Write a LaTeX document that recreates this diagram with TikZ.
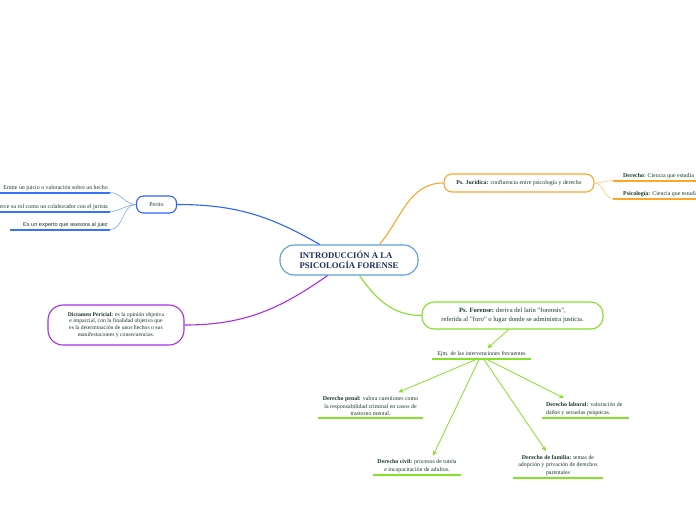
\documentclass[tikz,border=0pt]{standalone}
\usepackage{fontspec}
\setmainfont{Liberation Serif}
\newfontfamily\sansf{Liberation Sans}
\usetikzlibrary{arrows.meta,calc}
\definecolor{txt}{RGB}{25,55,42}
\definecolor{navy}{RGB}{30,45,95}
\definecolor{cblue}{RGB}{90,160,215}
\definecolor{pblue}{RGB}{45,100,250}
\definecolor{ublue}{RGB}{55,115,255}
\definecolor{lblue}{RGB}{120,165,255}
\definecolor{orng}{RGB}{255,165,40}
\definecolor{lorng}{RGB}{255,200,120}
\definecolor{purp}{RGB}{170,45,230}
\definecolor{grn}{RGB}{130,225,40}
\begin{document}
\begin{tikzpicture}[x=1pt,y=1pt,
 txtf/.style={font=\fontsize{5.9}{7.6}\selectfont, text=txt},
 bub/.style={draw, line width=1.1pt, fill=white, inner sep=0pt},
 leaf/.style={txtf, inner xsep=0pt, inner ysep=2pt},
 ul/.style={line width=2pt},
 conn/.style={line width=1.1pt},
 thin/.style={line width=0.6pt},
 ar/.style={grn, line width=0.8pt, -{Stealth[length=5pt,width=4.5pt]}}
]
\useasboundingbox (0,0) rectangle (696,-520);
\clip (0,0) rectangle (696,-520);

% central
\node[bub, draw=cblue, minimum width=138, minimum height=30, rounded corners=14pt,
  align=left, font=\fontsize{8.7}{10}\selectfont\bfseries, text=navy] (c) at (349,-260)
  {INTRODUCCIÓN A LA\\PSICOLOGÍA FORENSE};

% Perito
\node[bub, draw=pblue, minimum width=40, minimum height=17, rounded corners=7pt, txtf] (per) at (156.5,-204.5) {Perito};
\draw[conn, pblue] (c.152.6) to[out=150,in=0] (per.east);

\coordinate (u1a) at (0,-192.5);  \coordinate (u1b) at (110,-192.5);
\coordinate (u2a) at (0,-211.5);  \coordinate (u2b) at (110,-211.5);
\coordinate (u3a) at (10,-229.5); \coordinate (u3b) at (110,-229.5);
\node[leaf, anchor=south east] (p1) at ([xshift=-2pt]u1b) {Emite un juicio o valoración sobre un hecho};
\node[leaf, anchor=south east] (p2) at ([xshift=-2pt]u2b) {Ejerce su rol como un colaborador con el jurista};
\node[leaf, anchor=south east, font=\sansf\fontsize{5.6}{6.5}\selectfont] (p3) at ([xshift=-2pt]u3b) {Es un experto que asesora al juez};
\draw[ul, ublue] (u1a) -- (u1b);
\draw[ul, ublue] (u2a) -- (u2b);
\draw[ul, ublue] (u3a) -- (u3b);
\draw[thin, lblue] (per.west) to[out=180,in=0] (u1b);
\draw[thin, lblue] (per.west) to[out=180,in=0] (u2b);
\draw[thin, lblue] (per.west) to[out=180,in=0] (u3b);

% Ps. Juridica
\node[bub, draw=orng, minimum width=150, minimum height=18, rounded corners=8pt, txtf] (pj) at (519,-183)
  {\textbf{Ps. Jurídica:} confluencia entre psicología y derecho};
\draw[conn, orng] (c.27.4) to[out=50,in=180] (pj.west);
\coordinate (j1a) at (613,-180.5); \coordinate (j1b) at (700,-180.5);
\coordinate (j2a) at (613,-198.5); \coordinate (j2b) at (700,-198.5);
\node[leaf, anchor=south west] (d1) at ([xshift=10pt]j1a) {\textbf{Derecho}: Ciencia que estudia};
\node[leaf, anchor=south west] (d2) at ([xshift=10pt]j2a) {\textbf{Psicología:} Ciencia que estudia};
\draw[ul, orng] (j1a) -- (j1b);
\draw[ul, orng] (j2a) -- (j2b);
\draw[thin, lorng] (pj.east) to[out=0,in=180] (j1a);
\draw[thin, lorng] (pj.east) to[out=0,in=180] (j2a);

% Dictamen
\node[bub, draw=purp, minimum width=136, minimum height=40, rounded corners=15pt, txtf, align=center,
  font=\fontsize{5.7}{6.8}\selectfont] (dp) at (116,-325)
  {\textbf{Dictamen Pericial:} es la opinión objetiva\\e imparcial, con la finalidad objetiva que\\es la determinación de unos hechos o sus\\manifestaciones y consecuencias.};
\draw[conn, purp] (c.216) to[out=215,in=0] (dp.east);

% Ps. Forense
\node[bub, draw=grn, minimum width=181, minimum height=27, rounded corners=12pt, align=center,
  font=\fontsize{6.6}{8.4}\selectfont, text=txt] (pf) at (512.5,-315.5)
  {\textbf{Ps. Forense:} deriva del latín "forensis",\\referida al "foro" o lugar donde se administra justicia.};
\draw[conn, grn] (c.304.5) to[out=-55,in=180] (pf.west);

% Ejm
\coordinate (ea) at (432,-359); \coordinate (eb) at (531,-359);
\node[leaf, anchor=south] (ejm) at ($(ea)!0.5!(eb)$) {Ejm. de las intervenciones frecuentes};
\draw[ul, grn] (ea) -- (eb);
\draw[ar] (pf.255) -- ([xshift=6pt,yshift=1pt]ejm.north);
\coordinate (e1) at (476,-359.5);
\coordinate (e2) at (479,-359.5);
\coordinate (e3) at (484,-359.5);
\coordinate (e4) at (487,-359.5);

% penal
\coordinate (pa) at (318,-418); \coordinate (pb) at (423,-418);
\node[leaf, anchor=south, align=center] (pen) at ($(pa)!0.5!(pb)$)
  {\textbf{Derecho penal:} valora cuestiones como\\la responsabilidad criminal en casos de\\trastorno mental.};
\draw[ul, grn] (pa) -- (pb);
\draw[ar] (e1) -- ([xshift=-20pt,yshift=2pt]pen.north east);

% laboral
\coordinate (la) at (542,-417.5); \coordinate (lb) at (629,-417.5);
\node[leaf, anchor=south west, align=left] (lab) at ([xshift=4pt]la)
  {\textbf{Derecho laboral:} valoración de\\daños y secuelas psíquicas.};
\draw[ul, grn] (la) -- (lb);
\draw[ar] (e4) -- ([xshift=18pt,yshift=2pt]lab.north west);

% civil
\coordinate (ca) at (373,-475); \coordinate (cb) at (461,-475);
\node[leaf, anchor=south, align=center] (civ) at ($(ca)!0.5!(cb)$)
  {\textbf{Derecho civil:} procesos de tutela\\e incapacitación de adultos.};
\draw[ul, grn] (ca) -- (cb);
\draw[ar] (e2) -- ([xshift=16pt,yshift=2pt]civ.north);

% familia
\coordinate (fa) at (513,-478); \coordinate (fb) at (603,-478);
\node[leaf, anchor=south, align=center] (fam) at ($(fa)!0.5!(fb)$)
  {\textbf{Derecho de familia:} temas de\\adopción y privación de derechos\\parentales};
\draw[ul, grn] (fa) -- (fb);
\draw[ar] (e3) -- ([xshift=-12pt,yshift=2pt]fam.north);
\end{tikzpicture}
\end{document}
